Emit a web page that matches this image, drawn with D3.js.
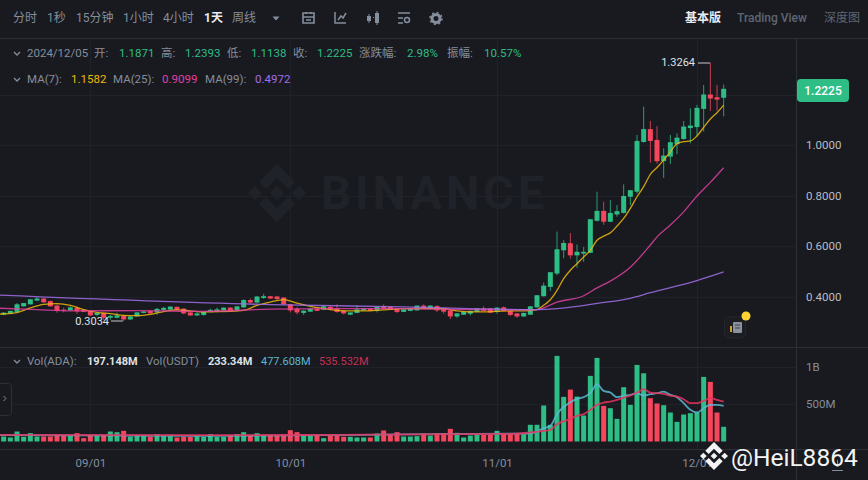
<!DOCTYPE html>
<html>
<head>
<meta charset="utf-8">
<style>
  html, body { margin: 0; padding: 0; background: #181a20; overflow: hidden; }
  svg { display: block; }
  text { font-family: Roboto, "Noto Sans CJK SC", sans-serif; }
</style>
<script src="https://cdn.jsdelivr.net/npm/d3@7"></script>
</head>
<body>
<svg id="chart" width="868" height="480"></svg>
<script>
// ADA/USDT daily, 2024-08-19 .. 2024-12-05
var opens = [.328,.332,.339,.361,.369,.384,.392,.382,.364,.348,.345,.355,.347,.343,.327,.335,.316,.316,.323,.309,.321,.335,.343,.337,.347,.348,.359,.352,.337,.325,.327,.340,.341,.345,.356,.345,.357,.386,.376,.394,.401,.400,.396,.369,.351,.335,.340,.351,.348,.359,.351,.344,.328,.335,.345,.352,.343,.361,.359,.351,.339,.343,.345,.364,.352,.362,.353,.345,.321,.328,.332,.339,.353,.353,.339,.357,.343,.333,.321,.328,.357,.401,.438,.491,.583,.611,.563,.570,.573,.700,.739,.696,.725,.731,.795,.815,1.012,1.063,1.020,.936,.954,1.003,1.024,1.067,1.071,1.143,1.200,1.189,1.1871];
var highs = [.338,.344,.374,.375,.390,.398,.393,.384,.369,.356,.361,.361,.348,.344,.336,.336,.327,.336,.327,.322,.338,.342,.344,.355,.359,.361,.360,.353,.338,.337,.340,.352,.356,.357,.357,.362,.389,.392,.401,.411,.402,.403,.397,.370,.358,.345,.353,.352,.364,.364,.369,.345,.338,.365,.354,.353,.360,.369,.360,.352,.350,.354,.365,.369,.365,.366,.355,.346,.334,.340,.344,.354,.361,.354,.357,.361,.344,.334,.336,.362,.406,.455,.497,.657,.623,.651,.606,.596,.707,.815,.776,.782,.762,.844,.822,1.040,1.152,1.095,1.075,.987,1.040,1.046,1.095,1.145,1.159,1.238,1.3264,1.238,1.2393];
var lows = [.326,.331,.336,.360,.368,.382,.374,.360,.336,.337,.343,.332,.338,.324,.322,.308,.308,.313,.3034,.308,.320,.334,.332,.328,.342,.347,.346,.330,.324,.323,.324,.337,.337,.344,.342,.341,.355,.372,.373,.391,.391,.385,.368,.337,.329,.327,.339,.342,.346,.345,.336,.329,.327,.334,.344,.342,.337,.350,.347,.335,.338,.342,.344,.350,.351,.339,.332,.311,.316,.327,.325,.338,.342,.335,.332,.342,.323,.316,.320,.327,.356,.400,.422,.484,.551,.550,.514,.537,.572,.697,.684,.695,.716,.729,.762,.808,1.009,.930,.927,.870,.925,.964,1.020,1.007,1.033,1.053,1.135,1.136,1.1138];
var closes = [.336,.343,.369,.374,.389,.392,.377,.361,.343,.344,.357,.341,.339,.325,.335,.316,.323,.325,.309,.321,.337,.341,.333,.351,.355,.360,.347,.333,.325,.333,.339,.347,.349,.356,.343,.361,.386,.376,.400,.401,.392,.390,.369,.345,.337,.344,.352,.343,.361,.348,.339,.333,.337,.349,.353,.343,.359,.352,.348,.339,.349,.353,.364,.351,.364,.345,.340,.321,.333,.339,.343,.353,.343,.336,.356,.343,.327,.321,.335,.361,.405,.443,.496,.587,.612,.563,.577,.577,.706,.739,.696,.731,.738,.798,.821,1.016,1.063,1.016,.936,.958,1.011,1.029,1.073,1.077,1.147,1.200,1.184,1.180,1.2225];
var volumes = [67,54,134,63,112,67,67,67,89,80,80,112,45,80,80,80,134,125,143,67,80,80,67,98,72,72,54,63,63,72,63,98,63,63,80,98,125,89,112,89,89,80,89,152,125,80,80,80,45,80,80,63,63,54,54,54,107,148,89,125,67,67,72,107,80,112,112,170,116,54,80,89,89,89,143,107,112,103,98,224,224,483,224,1149,599,697,603,349,881,1122,478,447,304,729,492,1028,916,581,510,487,389,264,362,380,389,867,800,389,197.148];

var ma7Days = [-1,0,2,4,6,8,10,12,14,16,18,20,22,24,26,28,30,32,34,36,38,40,42,44,46,48,50,52,54,56,58,60,62,64,66,68,70,72,74,76,78,80,81,82,83,84,85,86,87,88,89,90,91,92,93,94,95,96,97,98,99,100,101,102,103,104,105,106,107,108];
var ma7 = [.330,.331,.336,.355,.369,.372,.365,.348,.337,.332,.325,.324,.329,.340,.347,.343,.339,.340,.341,.345,.365,.378,.388,.374,.361,.352,.345,.343,.343,.345,.349,.352,.352,.352,.352,.343,.339,.339,.341,.343,.343,.348,.365,.387,.424,.471,.504,.530,.557,.583,.623,.639,.652,.679,.709,.749,.795,.835,.884,.911,.940,.973,1.005,1.013,1.016,1.036,1.070,1.103,1.128,1.1582];
var ma25Days = [-1,5,10,20,30,40,50,60,70,78,80,83,87,89,91,94,97,98,100,102,104,106,108];
var ma25 = [.354,.348,.343,.344,.341,.350,.352,.352,.348,.347,.348,.378,.403,.434,.461,.516,.604,.636,.683,.735,.798,.852,.9099];
var ma99Days = [-1,40,60,80,86,89,94,97,104,108];
var ma99 = [.406,.368,.359,.348,.361,.373,.393,.415,.463,.4972];

var volBlueDays = [-1,30,50,76,79,81,82,83,85,86,87,88,89,90,91,92,93,94,95,96,97,98,99,100,101,102,103,104,105,106,107,108];
var volBlue = [85,75,85,107,107,179,210,367,527,572,595,648,769,679,657,595,612,626,648,617,635,648,670,626,595,514,425,389,447,492,492,477.608];
var volRedDays = [-1,30,50,76,79,81,82,83,85,86,87,88,89,90,91,92,93,94,95,96,97,98,99,100,101,102,103,104,105,106,107,108];
var volRed = [89,85,90,103,121,143,156,232,304,344,367,425,492,523,536,559,590,617,657,702,657,648,639,617,603,568,514,514,545,581,559,535.532];

var priceGrid = [1.2, 1.0, 0.8, 0.6, 0.4];
var priceTicks = [1.0, 0.8, 0.6, 0.4];
var volTicks = [500, 1000];
var volTickLabels = ["500M", "1B"];
var dateTicks = ["2024-09-01", "2024-10-01", "2024-11-01", "2024-12-01"];

var timeButtons = [["分时",13],["1秒",47],["15分钟",76],["1小时",123],["4小时",163],["周线",232]];

var GREEN = "#2ebd85", RED = "#f6465d", GRID = "#1f2229", LINE = "#2b2f36", GRAY = "#848e9c";

var svg = d3.select("#chart");
var parseDay = d3.utcParse("%Y-%m-%d");
var firstDay = parseDay("2024-08-19");
function dayOf(i) { return d3.utcDay.offset(firstDay, i); }

var x = d3.scaleUtc().domain([dayOf(0), dayOf(108)]).range([3.67, 723.67]);
var y = d3.scaleLinear().domain([0.4, 1.0]).range([296.5, 145]);
var yVol = d3.scaleLinear().domain([0, 1000]).range([441.5, 367]);

svg.append("rect").attr("width", 868).attr("height", 480).attr("fill", "#181a20");

// watermark
var mark = svg.append("g").attr("fill", "#1f2228");
mark.append("text").attr("x", 321).attr("y", 209).attr("font-size", 47).attr("font-weight", 700)
    .attr("letter-spacing", 4).text("BINANCE");
drawLogo(mark, 277, 193, 29);

// grid
svg.append("g").selectAll("line").data(dateTicks).join("line")
    .attr("x1", function(d) { return Math.round(x(parseDay(d))) + .5; })
    .attr("x2", function(d) { return Math.round(x(parseDay(d))) + .5; })
    .attr("y1", 38).attr("y2", 449).attr("stroke", GRID);
svg.append("g").selectAll("line").data(priceGrid).join("line")
    .attr("x1", 0).attr("x2", 796)
    .attr("y1", function(d) { return Math.round(y(d)) + .5; })
    .attr("y2", function(d) { return Math.round(y(d)) + .5; })
    .attr("stroke", GRID);
svg.append("g").selectAll("line").data(volTicks).join("line")
    .attr("x1", 0).attr("x2", 796)
    .attr("y1", function(d) { return Math.round(yVol(d)) + .5; })
    .attr("y2", function(d) { return Math.round(yVol(d)) + .5; })
    .attr("stroke", GRID);

[38.5, 347.5, 449.5].forEach(function(v) {
    svg.append("line").attr("x1", 0).attr("x2", 868).attr("y1", v).attr("y2", v).attr("stroke", LINE);
});
svg.append("line").attr("x1", 796.5).attr("x2", 796.5).attr("y1", 38).attr("y2", 480).attr("stroke", LINE);

// candles
var candles = svg.append("g").selectAll("g").data(d3.range(opens.length)).join("g")
    .attr("fill", function(i) { return closes[i] >= opens[i] ? GREEN : RED; });
candles.append("rect")
    .attr("x", function(i) { return x(dayOf(i)) - .5; })
    .attr("width", 1)
    .attr("y", function(i) { return y(highs[i]); })
    .attr("height", function(i) { return y(lows[i]) - y(highs[i]); })
    .attr("opacity", .8);
candles.append("rect")
    .attr("x", function(i) { return x(dayOf(i)) - 2.5; })
    .attr("width", 5)
    .attr("y", function(i) { return y(Math.max(opens[i], closes[i])); })
    .attr("height", function(i) { return Math.max(1, Math.abs(y(opens[i]) - y(closes[i]))); });

// moving averages
function drawLine(days, vals, yScale, color, width) {
    var gen = d3.line()
        .x(function(d) { return x(dayOf(d)); })
        .y(function(d, i) { return yScale(vals[i]); })
        .curve(d3.curveMonotoneX);
    svg.append("path").attr("d", gen(days)).attr("fill", "none")
        .attr("stroke", color).attr("stroke-width", width).attr("stroke-opacity", .85);
}
drawLine(ma7Days, ma7, y, "#f0b90b", 1.3);
drawLine(ma25Days, ma25, y, "#e03fa0", 1.3);
drawLine(ma99Days, ma99, y, "#a26ee8", 1.3);

// volume
svg.append("g").selectAll("rect").data(d3.range(volumes.length)).join("rect")
    .attr("x", function(i) { return x(dayOf(i)) - 2.5; })
    .attr("width", 5)
    .attr("y", function(i) { return yVol(volumes[i]); })
    .attr("height", function(i) { return yVol(0) - yVol(volumes[i]); })
    .attr("fill", function(i) { return closes[i] >= opens[i] ? GREEN : RED; });
drawLine(volBlueDays, volBlue, yVol, "#5bb8d3", 1.8);
drawLine(volRedDays, volRed, yVol, "#e8325f", 1.8);

// axes
var priceAxis = svg.append("g").attr("transform", "translate(806,0)")
    .call(d3.axisRight(y).tickValues(priceTicks).tickSize(0).tickPadding(0).tickFormat(d3.format(".4f")));
var volAxis = svg.append("g").attr("transform", "translate(806,0)")
    .call(d3.axisRight(yVol).tickValues(volTicks).tickSize(0).tickPadding(0)
        .tickFormat(function(d, i) { return volTickLabels[i]; }));
var dateAxis = svg.append("g").attr("transform", "translate(0,459)")
    .call(d3.axisBottom(x).tickValues(dateTicks.map(parseDay)).tickSize(0).tickPadding(0)
        .tickFormat(d3.utcFormat("%m/%d")));
[priceAxis, volAxis, dateAxis].forEach(function(a) {
    a.select(".domain").remove();
    a.selectAll("text").attr("fill", GRAY).attr("font-size", 11.5)
        .style("font-family", 'Roboto, "Noto Sans CJK SC", sans-serif');
});
priceAxis.selectAll("text").attr("fill", "#b7bdc6");
dateAxis.selectAll("text").attr("dy", "0.71em");

// last price tag
svg.append("rect").attr("x", 797).attr("y", 79).attr("width", 52).attr("height", 23).attr("rx", 4).attr("fill", GREEN);
label(823, 95, "1.2225", "#fff", 12, 500, "middle");

// high / low markers
label(695, 66, "1.3264", "#dfe2e6", 11, 400, "end");
svg.append("rect").attr("x", 698).attr("y", 62.5).attr("width", 12).attr("height", 1).attr("fill", "#c4c6ca");
label(109, 325, "0.3034", "#dfe2e6", 11, 400, "end");
svg.append("rect").attr("x", 111).attr("y", 320.5).attr("width", 12).attr("height", 1).attr("fill", "#c4c6ca");

// toolbar
timeButtons.forEach(function(b) { label(b[1], 22, b[0], GRAY, 12); });
label(204, 22, "1天", "#eaecef", 12, 700);
svg.append("path").attr("d", "M272.5 16.5h7l-3.5 4z").attr("fill", GRAY);
label(685, 22, "基本版", "#eaecef", 12, 700);
label(737, 22, "Trading View", "#5e6673", 12, 500);
label(824, 22, "深度图", "#5e6673", 12);
drawToolIcons();

// legend rows
chevron(17, 53);
chevron(17, 79);
chevron(17, 361);
[[27,"2024/12/05",GRAY],[94,"开:",GRAY],[119,"1.1871",GREEN],[161,"高:",GRAY],[185,"1.2393",GREEN],
 [227,"低:",GRAY],[251,"1.1138",GREEN],[293,"收:",GRAY],[317,"1.2225",GREEN],[359,"涨跌幅:",GRAY],
 [407,"2.98%",GREEN],[447,"振幅:",GRAY],[484,"10.57%",GREEN]].forEach(function(t) {
    label(t[0], 57, t[1], t[2], 11.5);
});
[[27,"MA(7):",GRAY],[71,"1.1582","#f0b90b"],[113,"MA(25):",GRAY],[162,"0.9099","#e03fa0"],
 [205,"MA(99):",GRAY],[255,"0.4972","#a26ee8"]].forEach(function(t) {
    label(t[0], 83, t[1], t[2], 11.5);
});
label(27, 365, "Vol(ADA):", GRAY, 11.5);
label(87, 365, "197.148M", "#dfe2e6", 11, 700);
label(146, 365, "Vol(USDT)", GRAY, 11.5);
label(208, 365, "233.34M", "#dfe2e6", 11, 700);
label(261, 365, "477.608M", "#5bb8d3", 11);
label(319, 365, "535.532M", "#c72e55", 11);

// side handle, note button, download mark
svg.append("rect").attr("x", -4).attr("y", 383.5).attr("width", 15.5).attr("height", 32).attr("rx", 3)
    .attr("fill", "#181a20").attr("stroke", LINE);
svg.append("path").attr("d", "M3.5 396l2.5 2.5-2.5 2.5").attr("fill", "none").attr("stroke", GRAY);
svg.append("rect").attr("x", 724.5).attr("y", 317).attr("width", 21).attr("height", 21).attr("rx", 5)
    .attr("fill", "#1b1d23").attr("stroke", "#24272e");
svg.append("rect").attr("x", 733).attr("y", 322).attr("width", 9).attr("height", 11).attr("rx", 1).attr("fill", "#8a919c");
svg.append("path").attr("d", "M735 325h5M735 328h5").attr("stroke", "#3a3e46");
svg.append("rect").attr("x", 730).attr("y", 326).attr("width", 2).attr("height", 6).attr("fill", "#c9a227");
svg.append("circle").attr("cx", 746).attr("cy", 316).attr("r", 4.5).attr("fill", "#fcd535");
svg.append("path").attr("d", "M832 470.5h11M837.5 460v7M834.5 464l3 3 3-3").attr("fill", "none").attr("stroke", GRAY);

// reposter watermark
var wm = svg.append("g").attr("fill", "#f4f4f4");
drawLogo(wm, 714, 456, 14);
label(731, 466, "@HeiL8864", "#f4f4f4", 24.5, 400, "start");

function label(px, py, str, color, size, weight, anchor) {
    return svg.append("text").attr("x", px).attr("y", py).text(str)
        .attr("fill", color).attr("font-size", size)
        .attr("font-weight", weight || 400)
        .attr("text-anchor", anchor || "start");
}

function chevron(cx, cy) {
    svg.append("path").attr("d", "M" + (cx - 3) + " " + (cy - 1) + "l3 3 3-3")
        .attr("fill", "none").attr("stroke", GRAY).attr("stroke-width", 1.3);
}

// the Binance diamond: one centre square and four corner chevrons
function drawLogo(g, cx, cy, r) {
    function diamond(dx, dy, s) {
        g.append("path").attr("d", "M" + (cx + dx) + " " + (cy + dy - s) + "l" + s + " " + s + "l" + (-s) + " " + s + "l" + (-s) + " " + (-s) + "z");
    }
    diamond(0, 0, r * .24);
    diamond(-r * .76, 0, r * .24);
    diamond(r * .76, 0, r * .24);
    g.append("path").attr("d", "M" + (cx - r * .62) + " " + (cy - r * .38) + "L" + cx + " " + (cy - r) + "L" + (cx + r * .62) + " " + (cy - r * .38)
        + "L" + (cx + r * .38) + " " + (cy - r * .14) + "L" + cx + " " + (cy - r * .52) + "L" + (cx - r * .38) + " " + (cy - r * .14) + "z");
    g.append("path").attr("d", "M" + (cx - r * .62) + " " + (cy + r * .38) + "L" + cx + " " + (cy + r) + "L" + (cx + r * .62) + " " + (cy + r * .38)
        + "L" + (cx + r * .38) + " " + (cy + r * .14) + "L" + cx + " " + (cy + r * .52) + "L" + (cx - r * .38) + " " + (cy + r * .14) + "z");
}

function drawToolIcons() {
    var c = "#848e9c";
    var g = svg.append("g");
    // calendar
    g.append("path").attr("d", "M303 13h11v10h-11zM303 17h11M306 12v2M311 12v2M306 20h5").attr("fill", "none").attr("stroke", c).attr("stroke-width", 1.6);
    // line tool
    g.append("path").attr("d", "M335 12v11h11M338 20l3-4 2 2 3-5").attr("fill", "none").attr("stroke", c).attr("stroke-width", 1.5);
    // candles
    g.append("path").attr("d", "M367 16h4v5h-4zM375 13h4v10h-4z").attr("fill", c);
    g.append("path").attr("d", "M369 14v9M377 11v14M373 17.5h1").attr("stroke", c);
    // indicator list
    g.append("path").attr("d", "M398 13h12M398 18h5M398 23h5").attr("stroke", c).attr("stroke-width", 1.6);
    g.append("circle").attr("cx", 407).attr("cy", 20).attr("r", 2.5).attr("fill", "none").attr("stroke", c).attr("stroke-width", 1.5);
    // settings
    g.append("circle").attr("cx", 436).attr("cy", 18.5).attr("r", 4).attr("fill", "none").attr("stroke", c).attr("stroke-width", 3);
    g.append("circle").attr("cx", 436).attr("cy", 18.5).attr("r", 6).attr("fill", "none").attr("stroke", c).attr("stroke-width", 1.5).attr("stroke-dasharray", "2 2.7");
}
</script>
</body>
</html>
